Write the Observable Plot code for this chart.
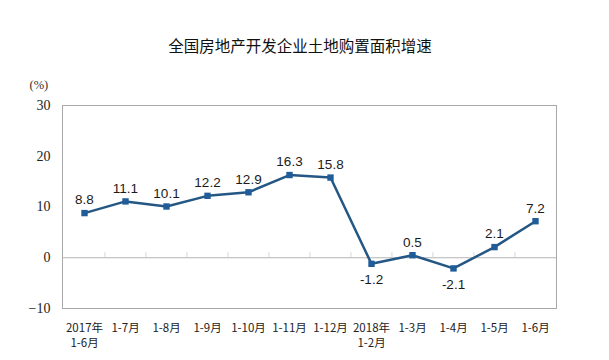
<!DOCTYPE html>
<html>
<head>
<meta charset="utf-8">
<script src="https://cdn.jsdelivr.net/npm/d3@7"></script>
<script src="https://cdn.jsdelivr.net/npm/@observablehq/plot@0.6"></script>
<style>
  body { margin: 0; background: #fff; }
  #wrap { width: 609px; height: 360px; position: relative; }
  #title { height: 60px; box-sizing: border-box; padding-top: 35px; width: 600px; text-align: center;
           font-family: "Noto Sans CJK SC", sans-serif; font-size: 15.5px; line-height: 20px; color: #111; }
</style>
</head>
<body>
<div id="wrap">
  <div id="title">全国房地产开发企业土地购置面积增速</div>
  <div id="chart"></div>
</div>
<script>
const categories = ["2017年\n1-6月", "1-7月", "1-8月", "1-9月", "1-10月", "1-11月", "1-12月", "2018年\n1-2月", "1-3月", "1-4月", "1-5月", "1-6月"];
const values = [8.8, 11.1, 10.1, 12.2, 12.9, 16.3, 15.8, -1.2, 0.5, -2.1, 2.1, 7.2];
const yTicks = [-10, 0, 10, 20, 30];
const unitLabel = "(%)";

const data = categories.map((c, i) => ({cat: c, v: values[i]}));
const step = (609 - 62 - 53) / categories.length;
const serif = "'Liberation Serif', 'Times New Roman', serif";

const plot = Plot.plot({
  width: 609,
  height: 300,
  marginLeft: 62,
  marginRight: 53,
  marginTop: 45,
  marginBottom: 52,
  x: {type: "point", domain: categories, padding: 0.5, label: null},
  y: {domain: [-10, 30], label: null},
  marks: [
    Plot.frame({stroke: "#a8a8a8"}),
    Plot.ruleY([0], {stroke: "#b4b4b4"}),
    Plot.ruleX(categories.slice(1), {x: d => d, y1: 0, y2: 1, dx: -step / 2, stroke: "#d6d6d6"}),
    Plot.axisY({ticks: yTicks, tickSize: 0, tickPadding: 12, fontFamily: serif, fontSize: 14, fill: "#222", label: null}),
    Plot.axisX({tickSize: 0, tickPadding: 12, fontFamily: "Noto Sans CJK SC", fontSize: 11.5, lineHeight: 1.35, fill: "#222", label: null}),
    Plot.text([unitLabel], {frameAnchor: "top-left", dx: -33, dy: -25, fontFamily: serif, fontSize: 12.5, fill: "#333", textAnchor: "start"}),
    Plot.line(data, {x: "cat", y: "v", stroke: "#245784", strokeWidth: 2.5}),
    Plot.dot(data, {x: "cat", y: "v", symbol: "square", r: 3.6, fill: "#1f5c99", stroke: "none"}),
    Plot.text(data.filter(d => d.v >= 0), {x: "cat", y: "v", text: d => d.v.toFixed(1), dy: -13, fontFamily: "Liberation Sans", fontSize: 13.5, fill: "#1a1a1a"}),
    Plot.text(data.filter(d => d.v < 0), {x: "cat", y: "v", text: d => d.v.toFixed(1), dy: 16, fontFamily: "Liberation Sans", fontSize: 13.5, fill: "#1a1a1a"})
  ]
});
document.getElementById("chart").appendChild(plot);
</script>
</body>
</html>
